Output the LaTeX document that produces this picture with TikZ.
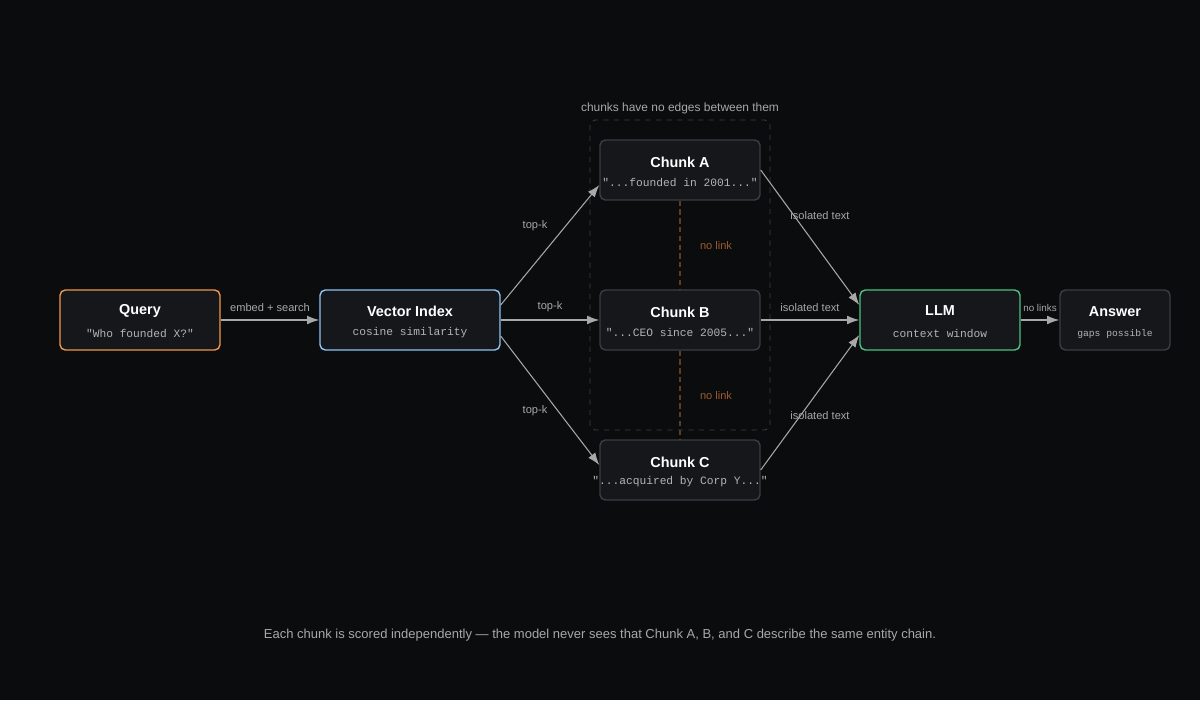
\documentclass[tikz,border=0pt]{standalone}
\usepackage{fontspec}
\setmainfont{Liberation Sans}
\setmonofont{Liberation Mono}
\usetikzlibrary{arrows.meta,positioning}
\definecolor{bgc}{HTML}{0B0C0E}
\definecolor{boxc}{HTML}{15171B}
\definecolor{edgec}{HTML}{3A3D42}
\definecolor{subc}{HTML}{B4B4B4}
\definecolor{lblc}{HTML}{A8A8A8}
\definecolor{qc}{HTML}{F0954A}
\definecolor{vc}{HTML}{8CC4F5}
\definecolor{lc}{HTML}{4CC27F}
\definecolor{linkc}{HTML}{9A5A2E}
\definecolor{dotc}{HTML}{5E3C22}
\begin{document}
\begin{tikzpicture}[x=0.02cm,y=-0.02cm,
  box/.style={rounded corners=3pt,draw=edgec,fill=boxc,line width=0.8pt,
    minimum width=3.2cm,minimum height=1.2cm,inner sep=0pt},
  title/.style={text=white,font=\fontsize{8.2}{10}\selectfont\bfseries},
  sub/.style={text=subc,font=\ttfamily\fontsize{6.4}{8}\selectfont},
  lbl/.style={text=lblc,font=\fontsize{6.3}{7}\selectfont},
  arr/.style={draw=lblc,line width=0.6pt,-{Latex[length=7pt,width=5pt]}}]
\fill[bgc] (0,0) rectangle (1200,700);
\useasboundingbox (0,0) rectangle (1200,700);
% group of chunks
\draw[edgec,dashed,rounded corners=3pt,line width=0.5pt] (590,120) rectangle (770,430);
\node[lbl,font=\fontsize{6.8}{8}\selectfont] (grp) at (680,108) {chunks have no edges between them};
% nodes
\node[box,draw=qc] (query) at (140,320) {};
\node[title] at (140,311) {Query};
\node[sub] at (140,333) {"Who founded X?"};
\node[box,draw=vc,minimum width=3.6cm] (index) at (410,320) {};
\node[title] at (410,311) {Vector Index};
\node[sub] at (410,333) {cosine similarity};
\node[box] (ca) at (680,170) {};
\node[title] at (680,162) {Chunk A};
\node[sub] at (680,182) {"...founded in 2001..."};
\node[box] (cb) at (680,320) {};
\node[title] at (680,312) {Chunk B};
\node[sub] at (680,332) {"...CEO since 2005..."};
\node[box] (cc) at (680,470) {};
\node[title] at (680,462) {Chunk C};
\node[sub] at (680,482) {"...acquired by Corp Y..."};
\node[box,draw=lc] (llm) at (940,320) {};
\node[title] at (940,311) {LLM};
\node[sub] at (940,333) {context window};
\node[box,minimum width=2.2cm] (ans) at (1115,320) {};
\node[title] at (1115,312) {Answer};
\node[sub,font=\ttfamily\fontsize{5.5}{7}\selectfont] at (1115,334) {gaps possible};
% missing links
\draw[dotc,densely dashed,line width=0.7pt] (ca.south) -- (cb.north);
\draw[dotc,densely dashed,line width=0.7pt] (cb.south) -- (cc.north);
\node[lbl,text=linkc] at (716,246) {no link};
\node[lbl,text=linkc] at (716,396) {no link};
% connectors
\path (index.east) ++(0,-15) coordinate (ia);
\path (index.east) ++(0,16) coordinate (ic);
\draw[arr] (query) -- node[lbl,above=1pt]{embed + search} (index);
\draw[arr] (ia) -- (ca.west |- 0,185);
\node[lbl] at (535,226) {top-k};
\draw[arr] (index) -- node[lbl,above=1pt]{top-k} (cb);
\draw[arr] (ic) -- (cc.west |- 0,465);
\node[lbl] at (535,411) {top-k};
\draw[arr] (ca.east) -- (llm.west |- 0,305);
\node[lbl] at (820,216) {isolated text};
\draw[arr] (cb) -- node[lbl,above=1pt]{isolated text} (llm);
\draw[arr] (cc.east) -- (llm.west |- 0,335);
\node[lbl] at (820,416) {isolated text};
\draw[arr] (llm) -- node[lbl,above=1pt,font=\fontsize{5.6}{7}\selectfont]{no links} (ans);
\node[lbl,font=\fontsize{7.4}{9}\selectfont] (note) at (600,635) {Each chunk is scored independently — the model never sees that Chunk A, B, and C describe the same entity chain.};
\end{tikzpicture}
\end{document}
